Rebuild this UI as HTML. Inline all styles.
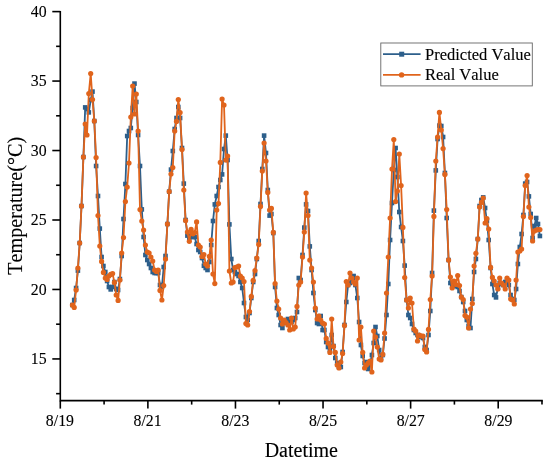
<!DOCTYPE html>
<html><head><meta charset="utf-8"><title>Temperature</title>
<style>html,body{margin:0;padding:0;background:#fff}svg{display:block}text{font-family:"Liberation Serif",serif;fill:#000;stroke:#000;stroke-width:0.12px;font-kerning:none}</style></head>
<body>
<svg width="550" height="464" viewBox="0 0 550 464">
<rect width="550" height="464" fill="#fff"/>
<g stroke="#000" stroke-width="1.6" fill="none" stroke-linecap="butt">
<path d="M60.3 10.9V400.6H542.8"/>
<path d="M56.1 393.66H60.3"/>
<path d="M52.3 358.93H60.3"/>
<path d="M56.1 324.19H60.3"/>
<path d="M52.3 289.46H60.3"/>
<path d="M56.1 254.73H60.3"/>
<path d="M52.3 220.00H60.3"/>
<path d="M56.1 185.26H60.3"/>
<path d="M52.3 150.53H60.3"/>
<path d="M56.1 115.80H60.3"/>
<path d="M52.3 81.06H60.3"/>
<path d="M56.1 46.33H60.3"/>
<path d="M52.3 11.60H60.3"/>
<path d="M60.30 400.6V408.6"/>
<path d="M104.09 400.6V404.6"/>
<path d="M147.88 400.6V408.6"/>
<path d="M191.67 400.6V404.6"/>
<path d="M235.46 400.6V408.6"/>
<path d="M279.25 400.6V404.6"/>
<path d="M323.04 400.6V408.6"/>
<path d="M366.83 400.6V404.6"/>
<path d="M410.62 400.6V408.6"/>
<path d="M454.41 400.6V404.6"/>
<path d="M498.20 400.6V408.6"/>
<path d="M541.99 400.6V404.6"/>
</g>
<g font-size="15.8px">
<text x="46.6" y="364.2" text-anchor="end">15</text>
<text x="46.6" y="294.8" text-anchor="end">20</text>
<text x="46.6" y="225.3" text-anchor="end">25</text>
<text x="46.6" y="155.8" text-anchor="end">30</text>
<text x="46.6" y="86.4" text-anchor="end">35</text>
<text x="46.6" y="16.9" text-anchor="end">40</text>
<text x="59.9" y="426.2" text-anchor="middle">8/19</text>
<text x="147.6" y="426.2" text-anchor="middle">8/21</text>
<text x="235.3" y="426.2" text-anchor="middle">8/23</text>
<text x="323.0" y="426.2" text-anchor="middle">8/25</text>
<text x="410.7" y="426.2" text-anchor="middle">8/27</text>
<text x="498.4" y="426.2" text-anchor="middle">8/29</text>
</g>
<text x="301.3" y="457.2" font-size="20px" text-anchor="middle">Datetime</text>
<text transform="translate(22.2 205.8) rotate(-90)" font-size="20.2px" text-anchor="middle">Temperature(°C)</text>
<polyline points="72.4,305.0 74.2,300.0 76.1,288.0 77.9,270.6 79.7,243.0 81.5,206.0 83.4,157.0 85.2,107.4 87.0,109.0 88.8,112.4 90.7,100.0 92.5,91.6 94.3,121.0 96.1,166.0 98.0,196.0 99.8,228.6 101.6,257.0 103.4,266.0 105.3,272.0 107.1,281.0 108.9,287.0 110.7,289.4 112.6,287.0 114.4,282.0 116.2,289.0 118.1,290.0 119.9,279.0 121.7,256.0 123.5,219.0 125.4,184.0 127.2,136.0 129.0,131.0 130.8,128.0 132.7,108.0 134.5,83.6 136.3,102.0 138.1,135.0 140.0,166.0 141.8,209.4 143.6,237.0 145.4,255.0 147.3,260.0 149.1,264.0 150.9,268.0 152.7,272.0 154.6,273.0 156.4,273.0 158.2,273.0 160.0,285.0 161.9,287.0 163.7,267.0 165.5,256.0 167.4,224.0 169.2,191.6 171.0,169.6 172.8,151.0 174.7,129.0 176.5,118.0 178.3,107.0 180.1,118.0 182.0,148.0 183.8,183.6 185.6,220.0 187.4,235.6 189.3,238.0 191.1,236.0 192.9,237.0 194.7,237.0 196.6,244.0 198.4,250.0 200.2,252.0 202.0,258.0 203.9,265.8 205.7,268.0 207.5,270.0 209.4,262.0 211.2,245.0 213.0,221.0 214.8,204.4 216.7,196.0 218.5,187.0 220.3,180.0 222.1,174.4 224.0,149.0 225.8,135.6 227.6,160.0 229.4,224.4 231.3,259.0 233.1,270.0 234.9,272.0 236.7,274.0 238.6,276.0 240.4,282.0 242.2,288.0 244.0,303.0 245.9,317.0 247.7,320.0 249.5,313.0 251.3,298.0 253.2,282.0 255.0,274.0 256.8,259.0 258.7,241.0 260.5,204.0 262.3,169.0 264.1,135.6 266.0,153.0 267.8,190.0 269.6,215.6 271.4,214.0 273.3,233.0 275.1,287.0 276.9,308.0 278.7,315.0 280.6,325.0 282.4,328.0 284.2,323.0 286.0,321.0 287.9,319.0 289.7,321.0 291.5,322.0 293.3,320.0 295.2,318.0 297.0,312.0 298.8,278.0 300.6,280.0 302.5,255.0 304.3,227.6 306.1,204.4 308.0,211.0 309.8,246.4 311.6,270.0 313.4,293.0 315.3,310.0 317.1,323.0 318.9,324.0 320.7,316.0 322.6,330.0 324.4,330.0 326.2,342.0 328.0,347.0 329.9,350.0 331.7,335.0 333.5,346.0 335.3,358.0 337.2,363.0 339.0,367.0 340.8,367.0 342.6,352.0 344.5,325.0 346.3,302.0 348.1,285.0 350.0,283.0 351.8,281.0 353.6,276.0 355.4,285.0 357.3,298.0 359.1,322.0 360.9,345.0 362.7,356.0 364.6,363.0 366.4,362.0 368.2,369.0 370.0,364.0 371.9,355.0 373.7,343.0 375.5,327.0 377.3,336.0 379.2,350.0 381.0,358.0 382.8,355.0 384.6,338.5 386.5,315.0 388.3,284.0 390.1,240.0 392.0,203.0 393.8,170.0 395.6,148.0 397.4,177.0 399.3,212.0 401.1,227.0 402.9,241.0 404.7,265.6 406.6,300.0 408.4,315.0 410.2,318.0 412.0,324.0 413.9,330.0 415.7,333.0 417.5,335.0 419.3,336.0 421.2,337.0 423.0,338.0 424.8,347.0 426.6,350.0 428.5,335.0 430.3,311.0 432.1,273.0 433.9,210.6 435.8,170.4 437.6,139.0 439.4,125.6 441.3,126.0 443.1,137.0 444.9,173.0 446.7,218.0 448.6,260.0 450.4,283.0 452.2,286.0 454.0,284.0 455.9,286.0 457.7,287.0 459.5,291.0 461.3,297.0 463.2,302.0 465.0,311.0 466.8,320.0 468.6,326.0 470.5,328.0 472.3,299.0 474.1,272.0 475.9,259.0 477.8,239.0 479.6,206.0 481.4,200.0 483.2,197.4 485.1,208.0 486.9,221.0 488.7,240.0 490.6,268.0 492.4,284.0 494.2,295.0 496.0,297.4 497.9,288.0 499.7,283.0 501.5,284.0 503.3,285.0 505.2,282.0 507.0,281.0 508.8,285.0 510.6,295.0 512.5,299.0 514.3,300.0 516.1,289.0 517.9,264.0 519.8,247.0 521.6,234.0 523.4,215.0 525.2,183.6 527.1,182.0 528.9,196.4 530.7,214.0 532.6,238.0 534.4,226.0 536.2,218.0 538.0,224.0 539.9,236.0" fill="none" stroke="#2d5f8b" stroke-width="1.8" stroke-linejoin="round"/>
<g fill="#2d5f8b">
<rect x="70.1" y="302.7" width="4.6" height="4.6"/>
<rect x="71.9" y="297.7" width="4.6" height="4.6"/>
<rect x="73.8" y="285.7" width="4.6" height="4.6"/>
<rect x="75.6" y="268.3" width="4.6" height="4.6"/>
<rect x="77.4" y="240.7" width="4.6" height="4.6"/>
<rect x="79.2" y="203.7" width="4.6" height="4.6"/>
<rect x="81.1" y="154.7" width="4.6" height="4.6"/>
<rect x="82.9" y="105.1" width="4.6" height="4.6"/>
<rect x="84.7" y="106.7" width="4.6" height="4.6"/>
<rect x="86.5" y="110.1" width="4.6" height="4.6"/>
<rect x="88.4" y="97.7" width="4.6" height="4.6"/>
<rect x="90.2" y="89.3" width="4.6" height="4.6"/>
<rect x="92.0" y="118.7" width="4.6" height="4.6"/>
<rect x="93.8" y="163.7" width="4.6" height="4.6"/>
<rect x="95.7" y="193.7" width="4.6" height="4.6"/>
<rect x="97.5" y="226.3" width="4.6" height="4.6"/>
<rect x="99.3" y="254.7" width="4.6" height="4.6"/>
<rect x="101.1" y="263.7" width="4.6" height="4.6"/>
<rect x="103.0" y="269.7" width="4.6" height="4.6"/>
<rect x="104.8" y="278.7" width="4.6" height="4.6"/>
<rect x="106.6" y="284.7" width="4.6" height="4.6"/>
<rect x="108.4" y="287.1" width="4.6" height="4.6"/>
<rect x="110.3" y="284.7" width="4.6" height="4.6"/>
<rect x="112.1" y="279.7" width="4.6" height="4.6"/>
<rect x="113.9" y="286.7" width="4.6" height="4.6"/>
<rect x="115.8" y="287.7" width="4.6" height="4.6"/>
<rect x="117.6" y="276.7" width="4.6" height="4.6"/>
<rect x="119.4" y="253.7" width="4.6" height="4.6"/>
<rect x="121.2" y="216.7" width="4.6" height="4.6"/>
<rect x="123.1" y="181.7" width="4.6" height="4.6"/>
<rect x="124.9" y="133.7" width="4.6" height="4.6"/>
<rect x="126.7" y="128.7" width="4.6" height="4.6"/>
<rect x="128.5" y="125.7" width="4.6" height="4.6"/>
<rect x="130.4" y="105.7" width="4.6" height="4.6"/>
<rect x="132.2" y="81.3" width="4.6" height="4.6"/>
<rect x="134.0" y="99.7" width="4.6" height="4.6"/>
<rect x="135.8" y="132.7" width="4.6" height="4.6"/>
<rect x="137.7" y="163.7" width="4.6" height="4.6"/>
<rect x="139.5" y="207.1" width="4.6" height="4.6"/>
<rect x="141.3" y="234.7" width="4.6" height="4.6"/>
<rect x="143.1" y="252.7" width="4.6" height="4.6"/>
<rect x="145.0" y="257.7" width="4.6" height="4.6"/>
<rect x="146.8" y="261.7" width="4.6" height="4.6"/>
<rect x="148.6" y="265.7" width="4.6" height="4.6"/>
<rect x="150.4" y="269.7" width="4.6" height="4.6"/>
<rect x="152.3" y="270.7" width="4.6" height="4.6"/>
<rect x="154.1" y="270.7" width="4.6" height="4.6"/>
<rect x="155.9" y="270.7" width="4.6" height="4.6"/>
<rect x="157.7" y="282.7" width="4.6" height="4.6"/>
<rect x="159.6" y="284.7" width="4.6" height="4.6"/>
<rect x="161.4" y="264.7" width="4.6" height="4.6"/>
<rect x="163.2" y="253.7" width="4.6" height="4.6"/>
<rect x="165.1" y="221.7" width="4.6" height="4.6"/>
<rect x="166.9" y="189.3" width="4.6" height="4.6"/>
<rect x="168.7" y="167.3" width="4.6" height="4.6"/>
<rect x="170.5" y="148.7" width="4.6" height="4.6"/>
<rect x="172.4" y="126.7" width="4.6" height="4.6"/>
<rect x="174.2" y="115.7" width="4.6" height="4.6"/>
<rect x="176.0" y="104.7" width="4.6" height="4.6"/>
<rect x="177.8" y="115.7" width="4.6" height="4.6"/>
<rect x="179.7" y="145.7" width="4.6" height="4.6"/>
<rect x="181.5" y="181.3" width="4.6" height="4.6"/>
<rect x="183.3" y="217.7" width="4.6" height="4.6"/>
<rect x="185.1" y="233.3" width="4.6" height="4.6"/>
<rect x="187.0" y="235.7" width="4.6" height="4.6"/>
<rect x="188.8" y="233.7" width="4.6" height="4.6"/>
<rect x="190.6" y="234.7" width="4.6" height="4.6"/>
<rect x="192.4" y="234.7" width="4.6" height="4.6"/>
<rect x="194.3" y="241.7" width="4.6" height="4.6"/>
<rect x="196.1" y="247.7" width="4.6" height="4.6"/>
<rect x="197.9" y="249.7" width="4.6" height="4.6"/>
<rect x="199.7" y="255.7" width="4.6" height="4.6"/>
<rect x="201.6" y="263.5" width="4.6" height="4.6"/>
<rect x="203.4" y="265.7" width="4.6" height="4.6"/>
<rect x="205.2" y="267.7" width="4.6" height="4.6"/>
<rect x="207.1" y="259.7" width="4.6" height="4.6"/>
<rect x="208.9" y="242.7" width="4.6" height="4.6"/>
<rect x="210.7" y="218.7" width="4.6" height="4.6"/>
<rect x="212.5" y="202.1" width="4.6" height="4.6"/>
<rect x="214.4" y="193.7" width="4.6" height="4.6"/>
<rect x="216.2" y="184.7" width="4.6" height="4.6"/>
<rect x="218.0" y="177.7" width="4.6" height="4.6"/>
<rect x="219.8" y="172.1" width="4.6" height="4.6"/>
<rect x="221.7" y="146.7" width="4.6" height="4.6"/>
<rect x="223.5" y="133.3" width="4.6" height="4.6"/>
<rect x="225.3" y="157.7" width="4.6" height="4.6"/>
<rect x="227.1" y="222.1" width="4.6" height="4.6"/>
<rect x="229.0" y="256.7" width="4.6" height="4.6"/>
<rect x="230.8" y="267.7" width="4.6" height="4.6"/>
<rect x="232.6" y="269.7" width="4.6" height="4.6"/>
<rect x="234.4" y="271.7" width="4.6" height="4.6"/>
<rect x="236.3" y="273.7" width="4.6" height="4.6"/>
<rect x="238.1" y="279.7" width="4.6" height="4.6"/>
<rect x="239.9" y="285.7" width="4.6" height="4.6"/>
<rect x="241.7" y="300.7" width="4.6" height="4.6"/>
<rect x="243.6" y="314.7" width="4.6" height="4.6"/>
<rect x="245.4" y="317.7" width="4.6" height="4.6"/>
<rect x="247.2" y="310.7" width="4.6" height="4.6"/>
<rect x="249.0" y="295.7" width="4.6" height="4.6"/>
<rect x="250.9" y="279.7" width="4.6" height="4.6"/>
<rect x="252.7" y="271.7" width="4.6" height="4.6"/>
<rect x="254.5" y="256.7" width="4.6" height="4.6"/>
<rect x="256.4" y="238.7" width="4.6" height="4.6"/>
<rect x="258.2" y="201.7" width="4.6" height="4.6"/>
<rect x="260.0" y="166.7" width="4.6" height="4.6"/>
<rect x="261.8" y="133.3" width="4.6" height="4.6"/>
<rect x="263.7" y="150.7" width="4.6" height="4.6"/>
<rect x="265.5" y="187.7" width="4.6" height="4.6"/>
<rect x="267.3" y="213.3" width="4.6" height="4.6"/>
<rect x="269.1" y="211.7" width="4.6" height="4.6"/>
<rect x="271.0" y="230.7" width="4.6" height="4.6"/>
<rect x="272.8" y="284.7" width="4.6" height="4.6"/>
<rect x="274.6" y="305.7" width="4.6" height="4.6"/>
<rect x="276.4" y="312.7" width="4.6" height="4.6"/>
<rect x="278.3" y="322.7" width="4.6" height="4.6"/>
<rect x="280.1" y="325.7" width="4.6" height="4.6"/>
<rect x="281.9" y="320.7" width="4.6" height="4.6"/>
<rect x="283.7" y="318.7" width="4.6" height="4.6"/>
<rect x="285.6" y="316.7" width="4.6" height="4.6"/>
<rect x="287.4" y="318.7" width="4.6" height="4.6"/>
<rect x="289.2" y="319.7" width="4.6" height="4.6"/>
<rect x="291.0" y="317.7" width="4.6" height="4.6"/>
<rect x="292.9" y="315.7" width="4.6" height="4.6"/>
<rect x="294.7" y="309.7" width="4.6" height="4.6"/>
<rect x="296.5" y="275.7" width="4.6" height="4.6"/>
<rect x="298.3" y="277.7" width="4.6" height="4.6"/>
<rect x="300.2" y="252.7" width="4.6" height="4.6"/>
<rect x="302.0" y="225.3" width="4.6" height="4.6"/>
<rect x="303.8" y="202.1" width="4.6" height="4.6"/>
<rect x="305.7" y="208.7" width="4.6" height="4.6"/>
<rect x="307.5" y="244.1" width="4.6" height="4.6"/>
<rect x="309.3" y="267.7" width="4.6" height="4.6"/>
<rect x="311.1" y="290.7" width="4.6" height="4.6"/>
<rect x="313.0" y="307.7" width="4.6" height="4.6"/>
<rect x="314.8" y="320.7" width="4.6" height="4.6"/>
<rect x="316.6" y="321.7" width="4.6" height="4.6"/>
<rect x="318.4" y="313.7" width="4.6" height="4.6"/>
<rect x="320.3" y="327.7" width="4.6" height="4.6"/>
<rect x="322.1" y="327.7" width="4.6" height="4.6"/>
<rect x="323.9" y="339.7" width="4.6" height="4.6"/>
<rect x="325.7" y="344.7" width="4.6" height="4.6"/>
<rect x="327.6" y="347.7" width="4.6" height="4.6"/>
<rect x="329.4" y="332.7" width="4.6" height="4.6"/>
<rect x="331.2" y="343.7" width="4.6" height="4.6"/>
<rect x="333.0" y="355.7" width="4.6" height="4.6"/>
<rect x="334.9" y="360.7" width="4.6" height="4.6"/>
<rect x="336.7" y="364.7" width="4.6" height="4.6"/>
<rect x="338.5" y="364.7" width="4.6" height="4.6"/>
<rect x="340.3" y="349.7" width="4.6" height="4.6"/>
<rect x="342.2" y="322.7" width="4.6" height="4.6"/>
<rect x="344.0" y="299.7" width="4.6" height="4.6"/>
<rect x="345.8" y="282.7" width="4.6" height="4.6"/>
<rect x="347.7" y="280.7" width="4.6" height="4.6"/>
<rect x="349.5" y="278.7" width="4.6" height="4.6"/>
<rect x="351.3" y="273.7" width="4.6" height="4.6"/>
<rect x="353.1" y="282.7" width="4.6" height="4.6"/>
<rect x="355.0" y="295.7" width="4.6" height="4.6"/>
<rect x="356.8" y="319.7" width="4.6" height="4.6"/>
<rect x="358.6" y="342.7" width="4.6" height="4.6"/>
<rect x="360.4" y="353.7" width="4.6" height="4.6"/>
<rect x="362.3" y="360.7" width="4.6" height="4.6"/>
<rect x="364.1" y="359.7" width="4.6" height="4.6"/>
<rect x="365.9" y="366.7" width="4.6" height="4.6"/>
<rect x="367.7" y="361.7" width="4.6" height="4.6"/>
<rect x="369.6" y="352.7" width="4.6" height="4.6"/>
<rect x="371.4" y="340.7" width="4.6" height="4.6"/>
<rect x="373.2" y="324.7" width="4.6" height="4.6"/>
<rect x="375.0" y="333.7" width="4.6" height="4.6"/>
<rect x="376.9" y="347.7" width="4.6" height="4.6"/>
<rect x="378.7" y="355.7" width="4.6" height="4.6"/>
<rect x="380.5" y="352.7" width="4.6" height="4.6"/>
<rect x="382.3" y="336.2" width="4.6" height="4.6"/>
<rect x="384.2" y="312.7" width="4.6" height="4.6"/>
<rect x="386.0" y="281.7" width="4.6" height="4.6"/>
<rect x="387.8" y="237.7" width="4.6" height="4.6"/>
<rect x="389.7" y="200.7" width="4.6" height="4.6"/>
<rect x="391.5" y="167.7" width="4.6" height="4.6"/>
<rect x="393.3" y="145.7" width="4.6" height="4.6"/>
<rect x="395.1" y="174.7" width="4.6" height="4.6"/>
<rect x="397.0" y="209.7" width="4.6" height="4.6"/>
<rect x="398.8" y="224.7" width="4.6" height="4.6"/>
<rect x="400.6" y="238.7" width="4.6" height="4.6"/>
<rect x="402.4" y="263.3" width="4.6" height="4.6"/>
<rect x="404.3" y="297.7" width="4.6" height="4.6"/>
<rect x="406.1" y="312.7" width="4.6" height="4.6"/>
<rect x="407.9" y="315.7" width="4.6" height="4.6"/>
<rect x="409.7" y="321.7" width="4.6" height="4.6"/>
<rect x="411.6" y="327.7" width="4.6" height="4.6"/>
<rect x="413.4" y="330.7" width="4.6" height="4.6"/>
<rect x="415.2" y="332.7" width="4.6" height="4.6"/>
<rect x="417.0" y="333.7" width="4.6" height="4.6"/>
<rect x="418.9" y="334.7" width="4.6" height="4.6"/>
<rect x="420.7" y="335.7" width="4.6" height="4.6"/>
<rect x="422.5" y="344.7" width="4.6" height="4.6"/>
<rect x="424.3" y="347.7" width="4.6" height="4.6"/>
<rect x="426.2" y="332.7" width="4.6" height="4.6"/>
<rect x="428.0" y="308.7" width="4.6" height="4.6"/>
<rect x="429.8" y="270.7" width="4.6" height="4.6"/>
<rect x="431.6" y="208.3" width="4.6" height="4.6"/>
<rect x="433.5" y="168.1" width="4.6" height="4.6"/>
<rect x="435.3" y="136.7" width="4.6" height="4.6"/>
<rect x="437.1" y="123.3" width="4.6" height="4.6"/>
<rect x="439.0" y="123.7" width="4.6" height="4.6"/>
<rect x="440.8" y="134.7" width="4.6" height="4.6"/>
<rect x="442.6" y="170.7" width="4.6" height="4.6"/>
<rect x="444.4" y="215.7" width="4.6" height="4.6"/>
<rect x="446.3" y="257.7" width="4.6" height="4.6"/>
<rect x="448.1" y="280.7" width="4.6" height="4.6"/>
<rect x="449.9" y="283.7" width="4.6" height="4.6"/>
<rect x="451.7" y="281.7" width="4.6" height="4.6"/>
<rect x="453.6" y="283.7" width="4.6" height="4.6"/>
<rect x="455.4" y="284.7" width="4.6" height="4.6"/>
<rect x="457.2" y="288.7" width="4.6" height="4.6"/>
<rect x="459.0" y="294.7" width="4.6" height="4.6"/>
<rect x="460.9" y="299.7" width="4.6" height="4.6"/>
<rect x="462.7" y="308.7" width="4.6" height="4.6"/>
<rect x="464.5" y="317.7" width="4.6" height="4.6"/>
<rect x="466.3" y="323.7" width="4.6" height="4.6"/>
<rect x="468.2" y="325.7" width="4.6" height="4.6"/>
<rect x="470.0" y="296.7" width="4.6" height="4.6"/>
<rect x="471.8" y="269.7" width="4.6" height="4.6"/>
<rect x="473.6" y="256.7" width="4.6" height="4.6"/>
<rect x="475.5" y="236.7" width="4.6" height="4.6"/>
<rect x="477.3" y="203.7" width="4.6" height="4.6"/>
<rect x="479.1" y="197.7" width="4.6" height="4.6"/>
<rect x="480.9" y="195.1" width="4.6" height="4.6"/>
<rect x="482.8" y="205.7" width="4.6" height="4.6"/>
<rect x="484.6" y="218.7" width="4.6" height="4.6"/>
<rect x="486.4" y="237.7" width="4.6" height="4.6"/>
<rect x="488.3" y="265.7" width="4.6" height="4.6"/>
<rect x="490.1" y="281.7" width="4.6" height="4.6"/>
<rect x="491.9" y="292.7" width="4.6" height="4.6"/>
<rect x="493.7" y="295.1" width="4.6" height="4.6"/>
<rect x="495.6" y="285.7" width="4.6" height="4.6"/>
<rect x="497.4" y="280.7" width="4.6" height="4.6"/>
<rect x="499.2" y="281.7" width="4.6" height="4.6"/>
<rect x="501.0" y="282.7" width="4.6" height="4.6"/>
<rect x="502.9" y="279.7" width="4.6" height="4.6"/>
<rect x="504.7" y="278.7" width="4.6" height="4.6"/>
<rect x="506.5" y="282.7" width="4.6" height="4.6"/>
<rect x="508.3" y="292.7" width="4.6" height="4.6"/>
<rect x="510.2" y="296.7" width="4.6" height="4.6"/>
<rect x="512.0" y="297.7" width="4.6" height="4.6"/>
<rect x="513.8" y="286.7" width="4.6" height="4.6"/>
<rect x="515.6" y="261.7" width="4.6" height="4.6"/>
<rect x="517.5" y="244.7" width="4.6" height="4.6"/>
<rect x="519.3" y="231.7" width="4.6" height="4.6"/>
<rect x="521.1" y="212.7" width="4.6" height="4.6"/>
<rect x="522.9" y="181.3" width="4.6" height="4.6"/>
<rect x="524.8" y="179.7" width="4.6" height="4.6"/>
<rect x="526.6" y="194.1" width="4.6" height="4.6"/>
<rect x="528.4" y="211.7" width="4.6" height="4.6"/>
<rect x="530.3" y="235.7" width="4.6" height="4.6"/>
<rect x="532.1" y="223.7" width="4.6" height="4.6"/>
<rect x="533.9" y="215.7" width="4.6" height="4.6"/>
<rect x="535.7" y="221.7" width="4.6" height="4.6"/>
<rect x="537.6" y="233.7" width="4.6" height="4.6"/>
</g>
<polyline points="72.4,305.0 74.2,307.4 76.1,290.0 77.9,268.0 79.7,243.0 81.5,206.0 83.4,157.0 85.2,124.0 87.0,135.0 88.8,93.6 90.7,73.6 92.5,99.6 94.3,121.0 96.1,157.6 98.0,215.6 99.8,246.0 101.6,261.4 103.4,272.4 105.3,278.0 107.1,279.4 108.9,276.0 110.7,274.4 112.6,273.6 114.4,282.4 116.2,295.0 118.1,300.4 119.9,280.0 121.7,253.0 123.5,237.6 125.4,201.6 127.2,187.0 129.0,163.0 130.8,117.0 132.7,86.0 134.5,114.0 136.3,94.0 138.1,131.0 140.0,209.6 141.8,221.0 143.6,230.0 145.4,245.0 147.3,252.0 149.1,253.0 150.9,257.0 152.7,261.0 154.6,270.0 156.4,271.4 158.2,270.0 160.0,290.4 161.9,300.0 163.7,285.6 165.5,259.0 167.4,224.0 169.2,191.6 171.0,174.0 172.8,167.6 174.7,131.0 176.5,121.4 178.3,99.6 180.1,112.6 182.0,149.6 183.8,190.0 185.6,220.6 187.4,232.0 189.3,241.3 191.1,229.4 192.9,233.8 194.7,232.6 196.6,221.9 198.4,245.0 200.2,247.0 202.0,256.5 203.9,254.5 205.7,264.0 207.5,266.0 209.4,256.4 211.2,240.0 213.0,274.0 214.8,283.6 216.7,210.0 218.5,203.6 220.3,162.4 222.1,99.0 224.0,105.0 225.8,160.0 227.6,156.0 229.4,271.0 231.3,283.0 233.1,282.0 234.9,267.6 236.7,267.0 238.6,266.0 240.4,276.0 242.2,278.0 244.0,281.6 245.9,323.6 247.7,325.0 249.5,311.6 251.3,296.4 253.2,280.4 255.0,270.6 256.8,258.0 258.7,244.4 260.5,206.4 262.3,171.0 264.1,143.0 266.0,161.0 267.8,192.4 269.6,210.0 271.4,208.4 273.3,232.4 275.1,283.6 276.9,301.0 278.7,309.0 280.6,318.0 282.4,324.0 284.2,320.0 286.0,322.5 287.9,325.0 289.7,330.0 291.5,318.0 293.3,329.0 295.2,327.0 297.0,306.4 298.8,285.0 300.6,282.0 302.5,257.0 304.3,232.0 306.1,193.0 308.0,215.6 309.8,260.0 311.6,268.0 313.4,282.0 315.3,308.0 317.1,319.0 318.9,316.0 320.7,320.0 322.6,323.0 324.4,324.0 326.2,338.4 328.0,343.0 329.9,352.4 331.7,319.0 333.5,346.4 335.3,352.4 337.2,365.0 339.0,368.0 340.8,362.0 342.6,353.6 344.5,325.6 346.3,281.6 348.1,285.0 350.0,273.0 351.8,278.0 353.6,282.0 355.4,284.0 357.3,278.0 359.1,340.0 360.9,327.0 362.7,352.4 364.6,368.0 366.4,365.0 368.2,363.0 370.0,361.0 371.9,372.0 373.7,331.0 375.5,337.0 377.3,347.0 379.2,359.0 381.0,360.0 382.8,354.4 384.6,333.0 386.5,293.0 388.3,257.0 390.1,218.0 392.0,169.0 393.8,139.6 395.6,201.6 397.4,191.0 399.3,154.0 401.1,185.6 402.9,227.4 404.7,277.6 406.6,300.0 408.4,308.0 410.2,298.0 412.0,303.0 413.9,329.0 415.7,331.0 417.5,341.0 419.3,335.0 421.2,336.0 423.0,336.0 424.8,349.5 426.6,352.0 428.5,329.4 430.3,299.6 432.1,276.0 433.9,216.4 435.8,161.0 437.6,137.0 439.4,112.4 441.3,130.0 443.1,148.6 444.9,174.4 446.7,209.6 448.6,260.0 450.4,277.0 452.2,288.0 454.0,281.0 455.9,284.5 457.7,275.5 459.5,285.5 461.3,297.0 463.2,299.5 465.0,315.6 466.8,317.0 468.6,328.0 470.5,309.0 472.3,303.5 474.1,266.0 475.9,253.3 477.8,239.0 479.6,207.0 481.4,202.4 483.2,198.0 485.1,223.0 486.9,218.5 488.7,229.0 490.6,267.4 492.4,277.4 494.2,281.0 496.0,285.0 497.9,289.0 499.7,278.0 501.5,283.0 503.3,285.0 505.2,289.0 507.0,278.0 508.8,280.0 510.6,299.0 512.5,300.0 514.3,304.0 516.1,280.0 517.9,252.0 519.8,251.0 521.6,249.0 523.4,216.5 525.2,185.6 527.1,175.6 528.9,207.0 530.7,217.5 532.6,241.0 534.4,231.0 536.2,230.0 538.0,229.6 539.9,229.6" fill="none" stroke="#e0641c" stroke-width="1.8" stroke-linejoin="round"/>
<g fill="#e0641c">
<circle cx="72.4" cy="305.0" r="2.6"/>
<circle cx="74.2" cy="307.4" r="2.6"/>
<circle cx="76.1" cy="290.0" r="2.6"/>
<circle cx="77.9" cy="268.0" r="2.6"/>
<circle cx="79.7" cy="243.0" r="2.6"/>
<circle cx="81.5" cy="206.0" r="2.6"/>
<circle cx="83.4" cy="157.0" r="2.6"/>
<circle cx="85.2" cy="124.0" r="2.6"/>
<circle cx="87.0" cy="135.0" r="2.6"/>
<circle cx="88.8" cy="93.6" r="2.6"/>
<circle cx="90.7" cy="73.6" r="2.6"/>
<circle cx="92.5" cy="99.6" r="2.6"/>
<circle cx="94.3" cy="121.0" r="2.6"/>
<circle cx="96.1" cy="157.6" r="2.6"/>
<circle cx="98.0" cy="215.6" r="2.6"/>
<circle cx="99.8" cy="246.0" r="2.6"/>
<circle cx="101.6" cy="261.4" r="2.6"/>
<circle cx="103.4" cy="272.4" r="2.6"/>
<circle cx="105.3" cy="278.0" r="2.6"/>
<circle cx="107.1" cy="279.4" r="2.6"/>
<circle cx="108.9" cy="276.0" r="2.6"/>
<circle cx="110.7" cy="274.4" r="2.6"/>
<circle cx="112.6" cy="273.6" r="2.6"/>
<circle cx="114.4" cy="282.4" r="2.6"/>
<circle cx="116.2" cy="295.0" r="2.6"/>
<circle cx="118.1" cy="300.4" r="2.6"/>
<circle cx="119.9" cy="280.0" r="2.6"/>
<circle cx="121.7" cy="253.0" r="2.6"/>
<circle cx="123.5" cy="237.6" r="2.6"/>
<circle cx="125.4" cy="201.6" r="2.6"/>
<circle cx="127.2" cy="187.0" r="2.6"/>
<circle cx="129.0" cy="163.0" r="2.6"/>
<circle cx="130.8" cy="117.0" r="2.6"/>
<circle cx="132.7" cy="86.0" r="2.6"/>
<circle cx="134.5" cy="114.0" r="2.6"/>
<circle cx="136.3" cy="94.0" r="2.6"/>
<circle cx="138.1" cy="131.0" r="2.6"/>
<circle cx="140.0" cy="209.6" r="2.6"/>
<circle cx="141.8" cy="221.0" r="2.6"/>
<circle cx="143.6" cy="230.0" r="2.6"/>
<circle cx="145.4" cy="245.0" r="2.6"/>
<circle cx="147.3" cy="252.0" r="2.6"/>
<circle cx="149.1" cy="253.0" r="2.6"/>
<circle cx="150.9" cy="257.0" r="2.6"/>
<circle cx="152.7" cy="261.0" r="2.6"/>
<circle cx="154.6" cy="270.0" r="2.6"/>
<circle cx="156.4" cy="271.4" r="2.6"/>
<circle cx="158.2" cy="270.0" r="2.6"/>
<circle cx="160.0" cy="290.4" r="2.6"/>
<circle cx="161.9" cy="300.0" r="2.6"/>
<circle cx="163.7" cy="285.6" r="2.6"/>
<circle cx="165.5" cy="259.0" r="2.6"/>
<circle cx="167.4" cy="224.0" r="2.6"/>
<circle cx="169.2" cy="191.6" r="2.6"/>
<circle cx="171.0" cy="174.0" r="2.6"/>
<circle cx="172.8" cy="167.6" r="2.6"/>
<circle cx="174.7" cy="131.0" r="2.6"/>
<circle cx="176.5" cy="121.4" r="2.6"/>
<circle cx="178.3" cy="99.6" r="2.6"/>
<circle cx="180.1" cy="112.6" r="2.6"/>
<circle cx="182.0" cy="149.6" r="2.6"/>
<circle cx="183.8" cy="190.0" r="2.6"/>
<circle cx="185.6" cy="220.6" r="2.6"/>
<circle cx="187.4" cy="232.0" r="2.6"/>
<circle cx="189.3" cy="241.3" r="2.6"/>
<circle cx="191.1" cy="229.4" r="2.6"/>
<circle cx="192.9" cy="233.8" r="2.6"/>
<circle cx="194.7" cy="232.6" r="2.6"/>
<circle cx="196.6" cy="221.9" r="2.6"/>
<circle cx="198.4" cy="245.0" r="2.6"/>
<circle cx="200.2" cy="247.0" r="2.6"/>
<circle cx="202.0" cy="256.5" r="2.6"/>
<circle cx="203.9" cy="254.5" r="2.6"/>
<circle cx="205.7" cy="264.0" r="2.6"/>
<circle cx="207.5" cy="266.0" r="2.6"/>
<circle cx="209.4" cy="256.4" r="2.6"/>
<circle cx="211.2" cy="240.0" r="2.6"/>
<circle cx="213.0" cy="274.0" r="2.6"/>
<circle cx="214.8" cy="283.6" r="2.6"/>
<circle cx="216.7" cy="210.0" r="2.6"/>
<circle cx="218.5" cy="203.6" r="2.6"/>
<circle cx="220.3" cy="162.4" r="2.6"/>
<circle cx="222.1" cy="99.0" r="2.6"/>
<circle cx="224.0" cy="105.0" r="2.6"/>
<circle cx="225.8" cy="160.0" r="2.6"/>
<circle cx="227.6" cy="156.0" r="2.6"/>
<circle cx="229.4" cy="271.0" r="2.6"/>
<circle cx="231.3" cy="283.0" r="2.6"/>
<circle cx="233.1" cy="282.0" r="2.6"/>
<circle cx="234.9" cy="267.6" r="2.6"/>
<circle cx="236.7" cy="267.0" r="2.6"/>
<circle cx="238.6" cy="266.0" r="2.6"/>
<circle cx="240.4" cy="276.0" r="2.6"/>
<circle cx="242.2" cy="278.0" r="2.6"/>
<circle cx="244.0" cy="281.6" r="2.6"/>
<circle cx="245.9" cy="323.6" r="2.6"/>
<circle cx="247.7" cy="325.0" r="2.6"/>
<circle cx="249.5" cy="311.6" r="2.6"/>
<circle cx="251.3" cy="296.4" r="2.6"/>
<circle cx="253.2" cy="280.4" r="2.6"/>
<circle cx="255.0" cy="270.6" r="2.6"/>
<circle cx="256.8" cy="258.0" r="2.6"/>
<circle cx="258.7" cy="244.4" r="2.6"/>
<circle cx="260.5" cy="206.4" r="2.6"/>
<circle cx="262.3" cy="171.0" r="2.6"/>
<circle cx="264.1" cy="143.0" r="2.6"/>
<circle cx="266.0" cy="161.0" r="2.6"/>
<circle cx="267.8" cy="192.4" r="2.6"/>
<circle cx="269.6" cy="210.0" r="2.6"/>
<circle cx="271.4" cy="208.4" r="2.6"/>
<circle cx="273.3" cy="232.4" r="2.6"/>
<circle cx="275.1" cy="283.6" r="2.6"/>
<circle cx="276.9" cy="301.0" r="2.6"/>
<circle cx="278.7" cy="309.0" r="2.6"/>
<circle cx="280.6" cy="318.0" r="2.6"/>
<circle cx="282.4" cy="324.0" r="2.6"/>
<circle cx="284.2" cy="320.0" r="2.6"/>
<circle cx="286.0" cy="322.5" r="2.6"/>
<circle cx="287.9" cy="325.0" r="2.6"/>
<circle cx="289.7" cy="330.0" r="2.6"/>
<circle cx="291.5" cy="318.0" r="2.6"/>
<circle cx="293.3" cy="329.0" r="2.6"/>
<circle cx="295.2" cy="327.0" r="2.6"/>
<circle cx="297.0" cy="306.4" r="2.6"/>
<circle cx="298.8" cy="285.0" r="2.6"/>
<circle cx="300.6" cy="282.0" r="2.6"/>
<circle cx="302.5" cy="257.0" r="2.6"/>
<circle cx="304.3" cy="232.0" r="2.6"/>
<circle cx="306.1" cy="193.0" r="2.6"/>
<circle cx="308.0" cy="215.6" r="2.6"/>
<circle cx="309.8" cy="260.0" r="2.6"/>
<circle cx="311.6" cy="268.0" r="2.6"/>
<circle cx="313.4" cy="282.0" r="2.6"/>
<circle cx="315.3" cy="308.0" r="2.6"/>
<circle cx="317.1" cy="319.0" r="2.6"/>
<circle cx="318.9" cy="316.0" r="2.6"/>
<circle cx="320.7" cy="320.0" r="2.6"/>
<circle cx="322.6" cy="323.0" r="2.6"/>
<circle cx="324.4" cy="324.0" r="2.6"/>
<circle cx="326.2" cy="338.4" r="2.6"/>
<circle cx="328.0" cy="343.0" r="2.6"/>
<circle cx="329.9" cy="352.4" r="2.6"/>
<circle cx="331.7" cy="319.0" r="2.6"/>
<circle cx="333.5" cy="346.4" r="2.6"/>
<circle cx="335.3" cy="352.4" r="2.6"/>
<circle cx="337.2" cy="365.0" r="2.6"/>
<circle cx="339.0" cy="368.0" r="2.6"/>
<circle cx="340.8" cy="362.0" r="2.6"/>
<circle cx="342.6" cy="353.6" r="2.6"/>
<circle cx="344.5" cy="325.6" r="2.6"/>
<circle cx="346.3" cy="281.6" r="2.6"/>
<circle cx="348.1" cy="285.0" r="2.6"/>
<circle cx="350.0" cy="273.0" r="2.6"/>
<circle cx="351.8" cy="278.0" r="2.6"/>
<circle cx="353.6" cy="282.0" r="2.6"/>
<circle cx="355.4" cy="284.0" r="2.6"/>
<circle cx="357.3" cy="278.0" r="2.6"/>
<circle cx="359.1" cy="340.0" r="2.6"/>
<circle cx="360.9" cy="327.0" r="2.6"/>
<circle cx="362.7" cy="352.4" r="2.6"/>
<circle cx="364.6" cy="368.0" r="2.6"/>
<circle cx="366.4" cy="365.0" r="2.6"/>
<circle cx="368.2" cy="363.0" r="2.6"/>
<circle cx="370.0" cy="361.0" r="2.6"/>
<circle cx="371.9" cy="372.0" r="2.6"/>
<circle cx="373.7" cy="331.0" r="2.6"/>
<circle cx="375.5" cy="337.0" r="2.6"/>
<circle cx="377.3" cy="347.0" r="2.6"/>
<circle cx="379.2" cy="359.0" r="2.6"/>
<circle cx="381.0" cy="360.0" r="2.6"/>
<circle cx="382.8" cy="354.4" r="2.6"/>
<circle cx="384.6" cy="333.0" r="2.6"/>
<circle cx="386.5" cy="293.0" r="2.6"/>
<circle cx="388.3" cy="257.0" r="2.6"/>
<circle cx="390.1" cy="218.0" r="2.6"/>
<circle cx="392.0" cy="169.0" r="2.6"/>
<circle cx="393.8" cy="139.6" r="2.6"/>
<circle cx="395.6" cy="201.6" r="2.6"/>
<circle cx="397.4" cy="191.0" r="2.6"/>
<circle cx="399.3" cy="154.0" r="2.6"/>
<circle cx="401.1" cy="185.6" r="2.6"/>
<circle cx="402.9" cy="227.4" r="2.6"/>
<circle cx="404.7" cy="277.6" r="2.6"/>
<circle cx="406.6" cy="300.0" r="2.6"/>
<circle cx="408.4" cy="308.0" r="2.6"/>
<circle cx="410.2" cy="298.0" r="2.6"/>
<circle cx="412.0" cy="303.0" r="2.6"/>
<circle cx="413.9" cy="329.0" r="2.6"/>
<circle cx="415.7" cy="331.0" r="2.6"/>
<circle cx="417.5" cy="341.0" r="2.6"/>
<circle cx="419.3" cy="335.0" r="2.6"/>
<circle cx="421.2" cy="336.0" r="2.6"/>
<circle cx="423.0" cy="336.0" r="2.6"/>
<circle cx="424.8" cy="349.5" r="2.6"/>
<circle cx="426.6" cy="352.0" r="2.6"/>
<circle cx="428.5" cy="329.4" r="2.6"/>
<circle cx="430.3" cy="299.6" r="2.6"/>
<circle cx="432.1" cy="276.0" r="2.6"/>
<circle cx="433.9" cy="216.4" r="2.6"/>
<circle cx="435.8" cy="161.0" r="2.6"/>
<circle cx="437.6" cy="137.0" r="2.6"/>
<circle cx="439.4" cy="112.4" r="2.6"/>
<circle cx="441.3" cy="130.0" r="2.6"/>
<circle cx="443.1" cy="148.6" r="2.6"/>
<circle cx="444.9" cy="174.4" r="2.6"/>
<circle cx="446.7" cy="209.6" r="2.6"/>
<circle cx="448.6" cy="260.0" r="2.6"/>
<circle cx="450.4" cy="277.0" r="2.6"/>
<circle cx="452.2" cy="288.0" r="2.6"/>
<circle cx="454.0" cy="281.0" r="2.6"/>
<circle cx="455.9" cy="284.5" r="2.6"/>
<circle cx="457.7" cy="275.5" r="2.6"/>
<circle cx="459.5" cy="285.5" r="2.6"/>
<circle cx="461.3" cy="297.0" r="2.6"/>
<circle cx="463.2" cy="299.5" r="2.6"/>
<circle cx="465.0" cy="315.6" r="2.6"/>
<circle cx="466.8" cy="317.0" r="2.6"/>
<circle cx="468.6" cy="328.0" r="2.6"/>
<circle cx="470.5" cy="309.0" r="2.6"/>
<circle cx="472.3" cy="303.5" r="2.6"/>
<circle cx="474.1" cy="266.0" r="2.6"/>
<circle cx="475.9" cy="253.3" r="2.6"/>
<circle cx="477.8" cy="239.0" r="2.6"/>
<circle cx="479.6" cy="207.0" r="2.6"/>
<circle cx="481.4" cy="202.4" r="2.6"/>
<circle cx="483.2" cy="198.0" r="2.6"/>
<circle cx="485.1" cy="223.0" r="2.6"/>
<circle cx="486.9" cy="218.5" r="2.6"/>
<circle cx="488.7" cy="229.0" r="2.6"/>
<circle cx="490.6" cy="267.4" r="2.6"/>
<circle cx="492.4" cy="277.4" r="2.6"/>
<circle cx="494.2" cy="281.0" r="2.6"/>
<circle cx="496.0" cy="285.0" r="2.6"/>
<circle cx="497.9" cy="289.0" r="2.6"/>
<circle cx="499.7" cy="278.0" r="2.6"/>
<circle cx="501.5" cy="283.0" r="2.6"/>
<circle cx="503.3" cy="285.0" r="2.6"/>
<circle cx="505.2" cy="289.0" r="2.6"/>
<circle cx="507.0" cy="278.0" r="2.6"/>
<circle cx="508.8" cy="280.0" r="2.6"/>
<circle cx="510.6" cy="299.0" r="2.6"/>
<circle cx="512.5" cy="300.0" r="2.6"/>
<circle cx="514.3" cy="304.0" r="2.6"/>
<circle cx="516.1" cy="280.0" r="2.6"/>
<circle cx="517.9" cy="252.0" r="2.6"/>
<circle cx="519.8" cy="251.0" r="2.6"/>
<circle cx="521.6" cy="249.0" r="2.6"/>
<circle cx="523.4" cy="216.5" r="2.6"/>
<circle cx="525.2" cy="185.6" r="2.6"/>
<circle cx="527.1" cy="175.6" r="2.6"/>
<circle cx="528.9" cy="207.0" r="2.6"/>
<circle cx="530.7" cy="217.5" r="2.6"/>
<circle cx="532.6" cy="241.0" r="2.6"/>
<circle cx="534.4" cy="231.0" r="2.6"/>
<circle cx="536.2" cy="230.0" r="2.6"/>
<circle cx="538.0" cy="229.6" r="2.6"/>
<circle cx="539.9" cy="229.6" r="2.6"/>
</g>
<rect x="380.8" y="43" width="151.5" height="42.9" fill="#fff" stroke="#666" stroke-width="0.9"/>
<path d="M383 54.2H420.6" stroke="#2d5f8b" stroke-width="1.8"/><rect x="399.2" y="51.7" width="5" height="5" fill="#2d5f8b"/>
<path d="M383 74.9H420.6" stroke="#e0641c" stroke-width="1.8"/><circle cx="401.6" cy="74.9" r="2.7" fill="#e0641c"/>
<text x="425" y="59.5" font-size="16.5px">Predicted Value</text>
<text x="425" y="80.3" font-size="16.5px">Real Value</text>
</svg>
</body></html>
